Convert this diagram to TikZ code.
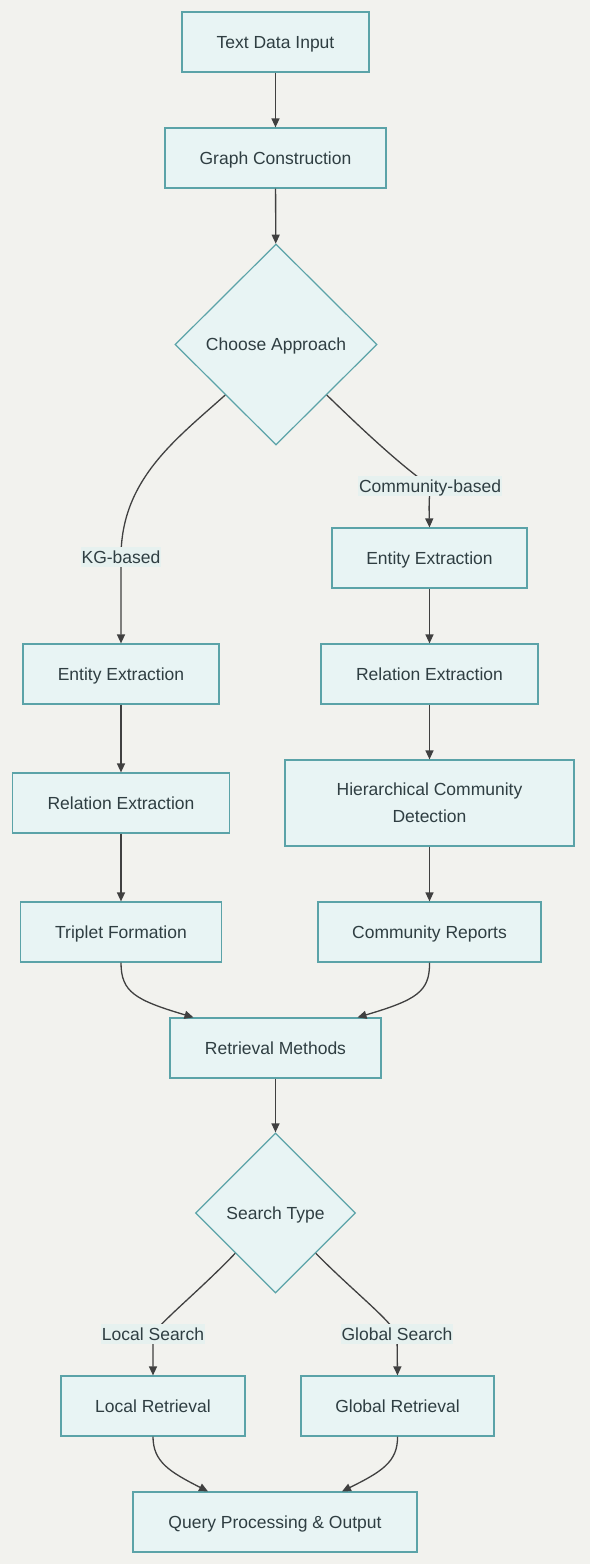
\documentclass[tikz,border=0pt]{standalone}
\usepackage{fontspec}
\setmainfont{Liberation Sans}
\usetikzlibrary{shapes.geometric,arrows.meta,calc}
\definecolor{bgcol}{HTML}{F2F2EE}
\definecolor{boxfill}{HTML}{E8F4F4}
\definecolor{boxline}{HTML}{5BA3A8}
\definecolor{txtcol}{HTML}{2F3E42}
\definecolor{edgecol}{HTML}{404040}
\definecolor{lblfill}{HTML}{E6F1EF}
\begin{document}
\begin{tikzpicture}[x=1pt,y=-1pt,
  box/.style={draw=boxline,fill=boxfill,line width=1.2pt,minimum height=60pt,inner sep=0pt,text=txtcol,text height=12.6pt,text depth=0pt,font=\fontsize{17.5}{27}\selectfont},
  choice/.style={diamond,aspect=1,draw=boxline,fill=boxfill,line width=1.2pt,inner sep=0pt,text=txtcol,text height=12.6pt,text depth=0pt,font=\fontsize{17.5}{27}\selectfont},
  lbl/.style={fill=lblfill,inner xsep=1pt,inner ysep=4pt,text=txtcol,text height=12.6pt,text depth=0pt,font=\fontsize{17.5}{27}\selectfont},
  edge/.style={draw=edgecol,line width=1.3pt,-{Triangle[length=9pt,width=8pt]}}]
\fill[bgcol] (0,0) rectangle (590,1564);
\useasboundingbox (0,0) rectangle (590,1564);

\node[box,minimum width=187pt] (1m) at (275.5,42) {Text Data Input};
\node[box,minimum width=221pt] (2m) at (275.5,158) {Graph Construction};
\node[choice,minimum width=202pt,minimum height=201pt] (3m) at (276,344.5) {Choose Approach};

\node[box,minimum width=196pt] (1k) at (121,674) {Entity Extraction};
\node[box,minimum width=217pt] (2k) at (121,803) {Relation Extraction};
\node[box,minimum width=201pt] (3k) at (121,932) {Triplet Formation};

\node[box,minimum width=195pt] (1c) at (429.5,558) {Entity Extraction};
\node[box,minimum width=217pt] (2c) at (429.5,674) {Relation Extraction};
\node[box,minimum width=289pt,minimum height=86pt,text height=39.6pt,align=center] (3c) at (429.5,803) {Hierarchical Community\\Detection};
\node[box,minimum width=223pt] (4c) at (429.5,932) {Community Reports};

\node[box,minimum width=211pt] (4m) at (275.5,1048) {Retrieval Methods};
\node[choice,minimum width=160pt,minimum height=160pt] (5m) at (275.5,1213) {Search Type};

\node[box,minimum width=184pt] (1l) at (153,1406) {Local Retrieval};
\node[box,minimum width=193pt] (1g) at (397.5,1406) {Global Retrieval};
\node[box,minimum width=284pt] (6m) at (275,1522) {Query Processing \& Output};

\coordinate (lk) at (121,557);
\coordinate (lc) at (430,486);
\coordinate (ll) at (153,1334);
\coordinate (lg) at (397,1334);

\path[edge] (1m) -- (2m);
\path[edge] (2m) -- (3m);
\path[edge] (3m.south west) .. controls (175,440) and (121,480) .. (lk) -- (1k.north);
\path[edge] (3m.south east) .. controls (370,437) and (402,466) .. (lc) .. controls (429,505) .. (1c.north);
\path[edge] (1k) -- (2k);
\path[edge] (2k) -- (3k);
\path[edge] (1c) -- (2c);
\path[edge] (2c) -- (3c);
\path[edge] (3c) -- (4c);
\path[edge] (3k.south) .. controls (121,992) and (135,1000) .. ($(4m.north)+(-82,0)$);
\path[edge] (4c.south) .. controls (430,992) and (416,1000) .. ($(4m.north)+(82,0)$);
\path[edge] (4m) -- (5m);
\path[edge] (5m.south west) .. controls (200,1290) and (165,1318) .. (ll) -- (1l.north);
\path[edge] (5m.south east) .. controls (352,1290) and (388,1318) .. (lg) -- (1g.north);
\path[edge] (1l.south) .. controls (153,1462) and (170,1472) .. ($(6m.north)+(-67,0)$);
\path[edge] (1g.south) .. controls (398,1462) and (381,1472) .. ($(6m.north)+(67,0)$);

\node[lbl] (lkt) at (lk) {KG-based};
\node[lbl] (lct) at (lc) {Community-based};
\node[lbl] (llt) at (ll) {Local Search};
\node[lbl] (lgt) at (lg) {Global Search};
\end{tikzpicture}
\end{document}
